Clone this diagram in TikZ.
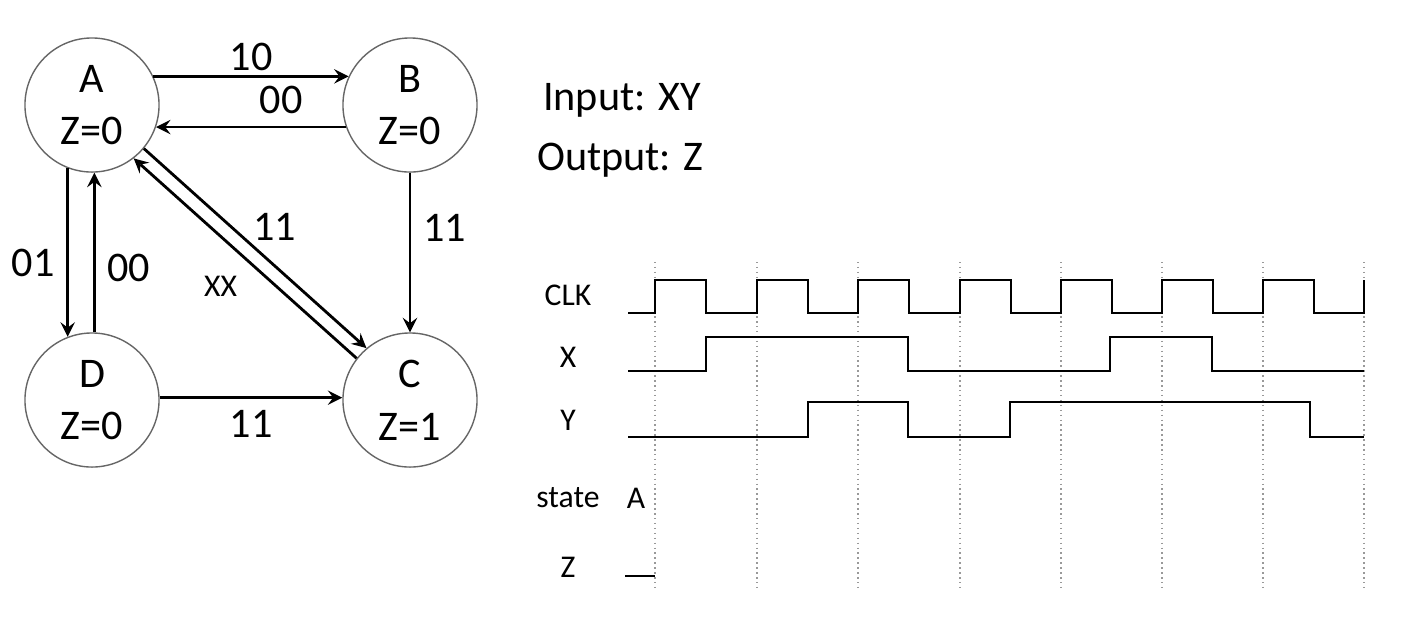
\documentclass[tikz,border=0pt]{standalone}
\usepackage{fontspec}
\setmainfont{Carlito}
\usetikzlibrary{arrows}
\begin{document}
\begin{tikzpicture}[x=0.01cm,y=-0.01cm,thick,>=stealth]
	\useasboundingbox (0,0) rectangle (1411,641);
	\tikzset{state/.style={circle,draw=black!60,thin,minimum size=1.34cm,inner sep=0pt,align=center,font=\fontsize{12}{15}\selectfont},
		lbl/.style={font=\fontsize{12}{14}\selectfont},
		sig/.style={font=\fontsize{9}{11}\selectfont},
		wave/.style={semithick}}
	\begin{scope}
	\node[state] (A) at (92,105) {A\\Z=0};
	\node[state] (B) at (410,105) {B\\Z=0};
	\node[state] (D) at (92,400) {D\\Z=0};
	\node[state] (C) at (410,400) {C\\Z=1};
	\end{scope}
	
	\draw[->] (A.25) -- node[lbl,above,yshift=-0.08cm] {10} (B.155);
	\draw[->] (B.199) -- node[lbl,above,xshift=0.3cm] {00} (A.-19);
	\draw[->] (A.249) -- node[lbl,left,yshift=-0.1cm] {01} (D.111);
	\draw[->] (D.88) -- node[lbl,right,yshift=-0.15cm] {00} (A.272);
	\draw[->] (A.-40) -- node[lbl,above right,xshift=-0.15cm,yshift=-0.05cm] {11} (C.130);
	\draw[->] (C.142) -- node[sig,below left,xshift=0.05cm,yshift=-0.05cm] {XX} (A.-52);
	\draw[->] (B.270) -- node[lbl,right,yshift=0.25cm] {11} (C.90);
	\draw[->] (D.2) -- node[lbl,below] {11} (C.178);
	
	\node[lbl,anchor=west] (in) at (530,100) {Input: XY};
	\node[lbl,anchor=west] (out) at (524,160) {Output: Z};
	
	% timing diagram
	\foreach \x in {655,757,858,960,1061,1162,1263,1364}
		\draw[thin,densely dotted,black!40] (\x,262) -- (\x,590);
	\node[sig] (clk) at (568,295) {CLK};
	\node[sig] (sx) at (568,357) {X};
	\node[sig] (sy) at (568,420) {Y};
	\node[sig] (st) at (568,498) {state};
	\node[sig] (sa) at (636,498) {A};
	\node[sig] (sz) at (568,567) {Z};
	\draw[wave] (628,313)
		\foreach \x in {655,757,858,960,1061,1162,1263}
		{ -- (\x,313) -- (\x,280) -- (\x+51,280) -- (\x+51,313) } -- (1364,313) -- (1364,280);
	\draw[wave] (628,371) -- (706,371) -- (706,337) -- (908,337) -- (908,371) -- (1110,371)
		-- (1110,337) -- (1212,337) -- (1212,371) -- (1364,371);
	\draw[wave] (628,437) -- (808,437) -- (808,402) -- (908,402) -- (908,437) -- (1010,437)
		-- (1010,402) -- (1310,402) -- (1310,437) -- (1364,437);
	\draw[wave] (625,576) -- (655,576);
\end{tikzpicture}
\end{document}
